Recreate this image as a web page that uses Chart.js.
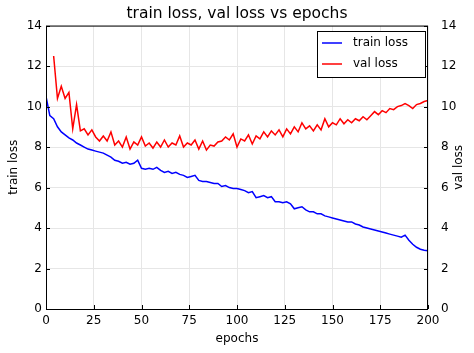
<!DOCTYPE html>
<html>
<head>
<meta charset="utf-8">
<script src="https://cdn.jsdelivr.net/npm/chart.js@4.4.1/dist/chart.umd.min.js"></script>
<style>
  html, body { margin: 0; padding: 0; background: #fff; }
  #wrap { width: 474px; height: 353px; }
</style>
</head>
<body>
<div id="wrap"><canvas id="chart" width="474" height="353"></canvas></div>
<script>
// epochs on a 2-step grid, 0..200
const epochs = Array.from({ length: 101 }, (_, i) => i * 2);

const trainLoss = [
  10.5, 9.55, 9.4, 9.0, 8.75, 8.6, 8.45, 8.35, 8.2, 8.1,
  8.0, 7.9, 7.85, 7.8, 7.75, 7.7, 7.6, 7.5, 7.35, 7.3,
  7.2, 7.25, 7.15, 7.2, 7.35, 6.95, 6.9, 6.95, 6.9, 7.0,
  6.85, 6.75, 6.8, 6.7, 6.75, 6.65, 6.6, 6.5, 6.55, 6.6,
  6.35, 6.3, 6.3, 6.25, 6.2, 6.2, 6.05, 6.1, 6.0, 5.95,
  5.95, 5.9, 5.85, 5.75, 5.8, 5.5, 5.55, 5.6, 5.5, 5.55,
  5.3, 5.3, 5.25, 5.3, 5.2, 4.95, 5.0, 5.05, 4.9, 4.8,
  4.8, 4.7, 4.7, 4.6, 4.55, 4.5, 4.45, 4.4, 4.35, 4.3,
  4.3, 4.2, 4.15, 4.05, 4.0, 3.95, 3.9, 3.85, 3.8, 3.75,
  3.7, 3.65, 3.6, 3.55, 3.65, 3.4, 3.2, 3.05, 2.95, 2.9,
  2.88
];

// val loss is only logged from epoch 4 on
const valLoss = [
  null, null,
  12.5, 10.4, 11.0, 10.4, 10.7, 8.9, 10.1, 8.8, 8.9, 8.6,
  8.85, 8.5, 8.3, 8.55, 8.3, 8.75, 8.1, 8.3, 8.0, 8.5,
  7.9, 8.25, 8.1, 8.5, 8.05, 8.2, 7.95, 8.25, 8.0, 8.35,
  8.0, 8.2, 8.1, 8.55, 8.0, 8.2, 8.1, 8.35, 7.9, 8.3,
  7.85, 8.1, 8.05, 8.25, 8.3, 8.5, 8.35, 8.65, 8.0, 8.4,
  8.3, 8.6, 8.15, 8.55, 8.4, 8.75, 8.5, 8.8, 8.6, 8.85,
  8.5, 8.9, 8.65, 9.0, 8.75, 9.2, 8.9, 9.05, 8.8, 9.1,
  8.85, 9.4, 9.0, 9.2, 9.1, 9.4, 9.15, 9.35, 9.2, 9.4,
  9.3, 9.5, 9.35, 9.55, 9.75, 9.6, 9.8, 9.7, 9.9, 9.85,
  10.0, 10.05, 10.15, 10.05, 9.9, 10.1, 10.15, 10.25, 10.3
];

const xTicks = [0, 25, 50, 75, 100, 125, 150, 175, 200];
const yTicks = [0, 2, 4, 6, 8, 10, 12, 14];

const FONT = "'DejaVu Sans', sans-serif";

// matplotlib-like frame, inward ticks, right label and legend box
const framePlugin = {
  id: "frame",
  afterDraw(chart) {
    const { ctx, chartArea: a, scales } = chart;
    ctx.save();
    ctx.strokeStyle = "#000";
    ctx.lineWidth = 1;
    ctx.strokeRect(a.left + 0.5, a.top + 0.5, a.right - a.left - 1, a.bottom - a.top);

    ctx.beginPath();
    xTicks.forEach((v) => {
      const px = Math.round(scales.x.getPixelForValue(v)) + 0.5;
      ctx.moveTo(px, a.bottom);
      ctx.lineTo(px, a.bottom - 4);
    });
    yTicks.forEach((v) => {
      const py = Math.round(scales.y.getPixelForValue(v)) + 0.5;
      ctx.moveTo(a.left, py);
      ctx.lineTo(a.left + 4, py);
      ctx.moveTo(a.right, py);
      ctx.lineTo(a.right - 4, py);
    });
    ctx.stroke();

    // right axis label, bottom-to-top like the left one
    ctx.font = "12px " + FONT;
    ctx.fillStyle = "#000";
    ctx.textAlign = "center";
    ctx.textBaseline = "middle";
    ctx.translate(459, (a.top + a.bottom) / 2);
    ctx.rotate(-Math.PI / 2);
    ctx.fillText("val loss", 0, 0);
    ctx.restore();

    // legend
    ctx.save();
    const lx = 317, ly = 31, lw = 108, lh = 46;
    ctx.fillStyle = "#fff";
    ctx.fillRect(lx, ly, lw, lh);
    ctx.strokeStyle = "#000";
    ctx.lineWidth = 1;
    ctx.strokeRect(lx + 0.5, ly + 0.5, lw, lh);
    ctx.font = "12px " + FONT;
    ctx.textAlign = "left";
    ctx.textBaseline = "middle";
    chart.data.datasets.forEach((ds, i) => {
      const yy = ly + 12 + i * 21;
      ctx.strokeStyle = ds.borderColor;
      ctx.lineWidth = 1.5;
      ctx.beginPath();
      ctx.moveTo(lx + 5, yy);
      ctx.lineTo(lx + 25, yy);
      ctx.stroke();
      ctx.fillStyle = "#000";
      ctx.fillText(ds.label, lx + 36, yy);
    });
    ctx.restore();
  },
};

const gridStyle = { color: "#e6e6e6", lineWidth: 1, drawTicks: false };

new Chart(document.getElementById("chart").getContext("2d"), {
  type: "line",
  data: {
    labels: epochs,
    datasets: [
      { label: "train loss", data: trainLoss, borderColor: "#0000ff", yAxisID: "y" },
      { label: "val loss", data: valLoss, borderColor: "#ff0000", yAxisID: "y1" },
    ],
  },
  options: {
    responsive: false,
    animation: false,
    layout: { padding: 0 },
    elements: {
      point: { radius: 0 },
      line: { borderWidth: 1.5, tension: 0 },
    },
    plugins: {
      legend: { display: false },
      tooltip: { enabled: false },
      title: {
        display: true,
        text: "train loss, val loss vs epochs",
        color: "#000",
        font: { family: FONT, size: 15.5, weight: "normal" },
        padding: { top: 5, bottom: 2 },
      },
    },
    scales: {
      x: {
        type: "linear",
        min: 0,
        max: 200,
        afterBuildTicks: (s) => { s.ticks = xTicks.map((v) => ({ value: v })); },
        grid: gridStyle,
        border: { display: false },
        ticks: { color: "#000", padding: 5, maxRotation: 0, font: { family: FONT, size: 12 } },
        title: { display: true, text: "epochs", color: "#000", font: { family: FONT, size: 12 }, padding: { top: 0, bottom: 7 } },
        afterFit: (s) => { s.height = 44; },
      },
      y: {
        position: "left",
        min: 0,
        max: 14,
        afterBuildTicks: (s) => { s.ticks = yTicks.map((v) => ({ value: v })); },
        grid: gridStyle,
        border: { display: false },
        ticks: { color: "#000", padding: 4, font: { family: FONT, size: 12 } },
        title: { display: true, text: "train loss", color: "#000", font: { family: FONT, size: 12 }, padding: { top: 7, bottom: 0 } },
        afterFit: (s) => { s.width = 46; },
      },
      y1: {
        position: "right",
        min: 0,
        max: 14,
        afterBuildTicks: (s) => { s.ticks = yTicks.map((v) => ({ value: v })); },
        grid: { display: false },
        border: { display: false },
        ticks: { color: "#000", padding: 5, font: { family: FONT, size: 12 } },
        afterFit: (s) => { s.width = 46; },
      },
    },
  },
  plugins: [framePlugin],
});
</script>
</body>
</html>
